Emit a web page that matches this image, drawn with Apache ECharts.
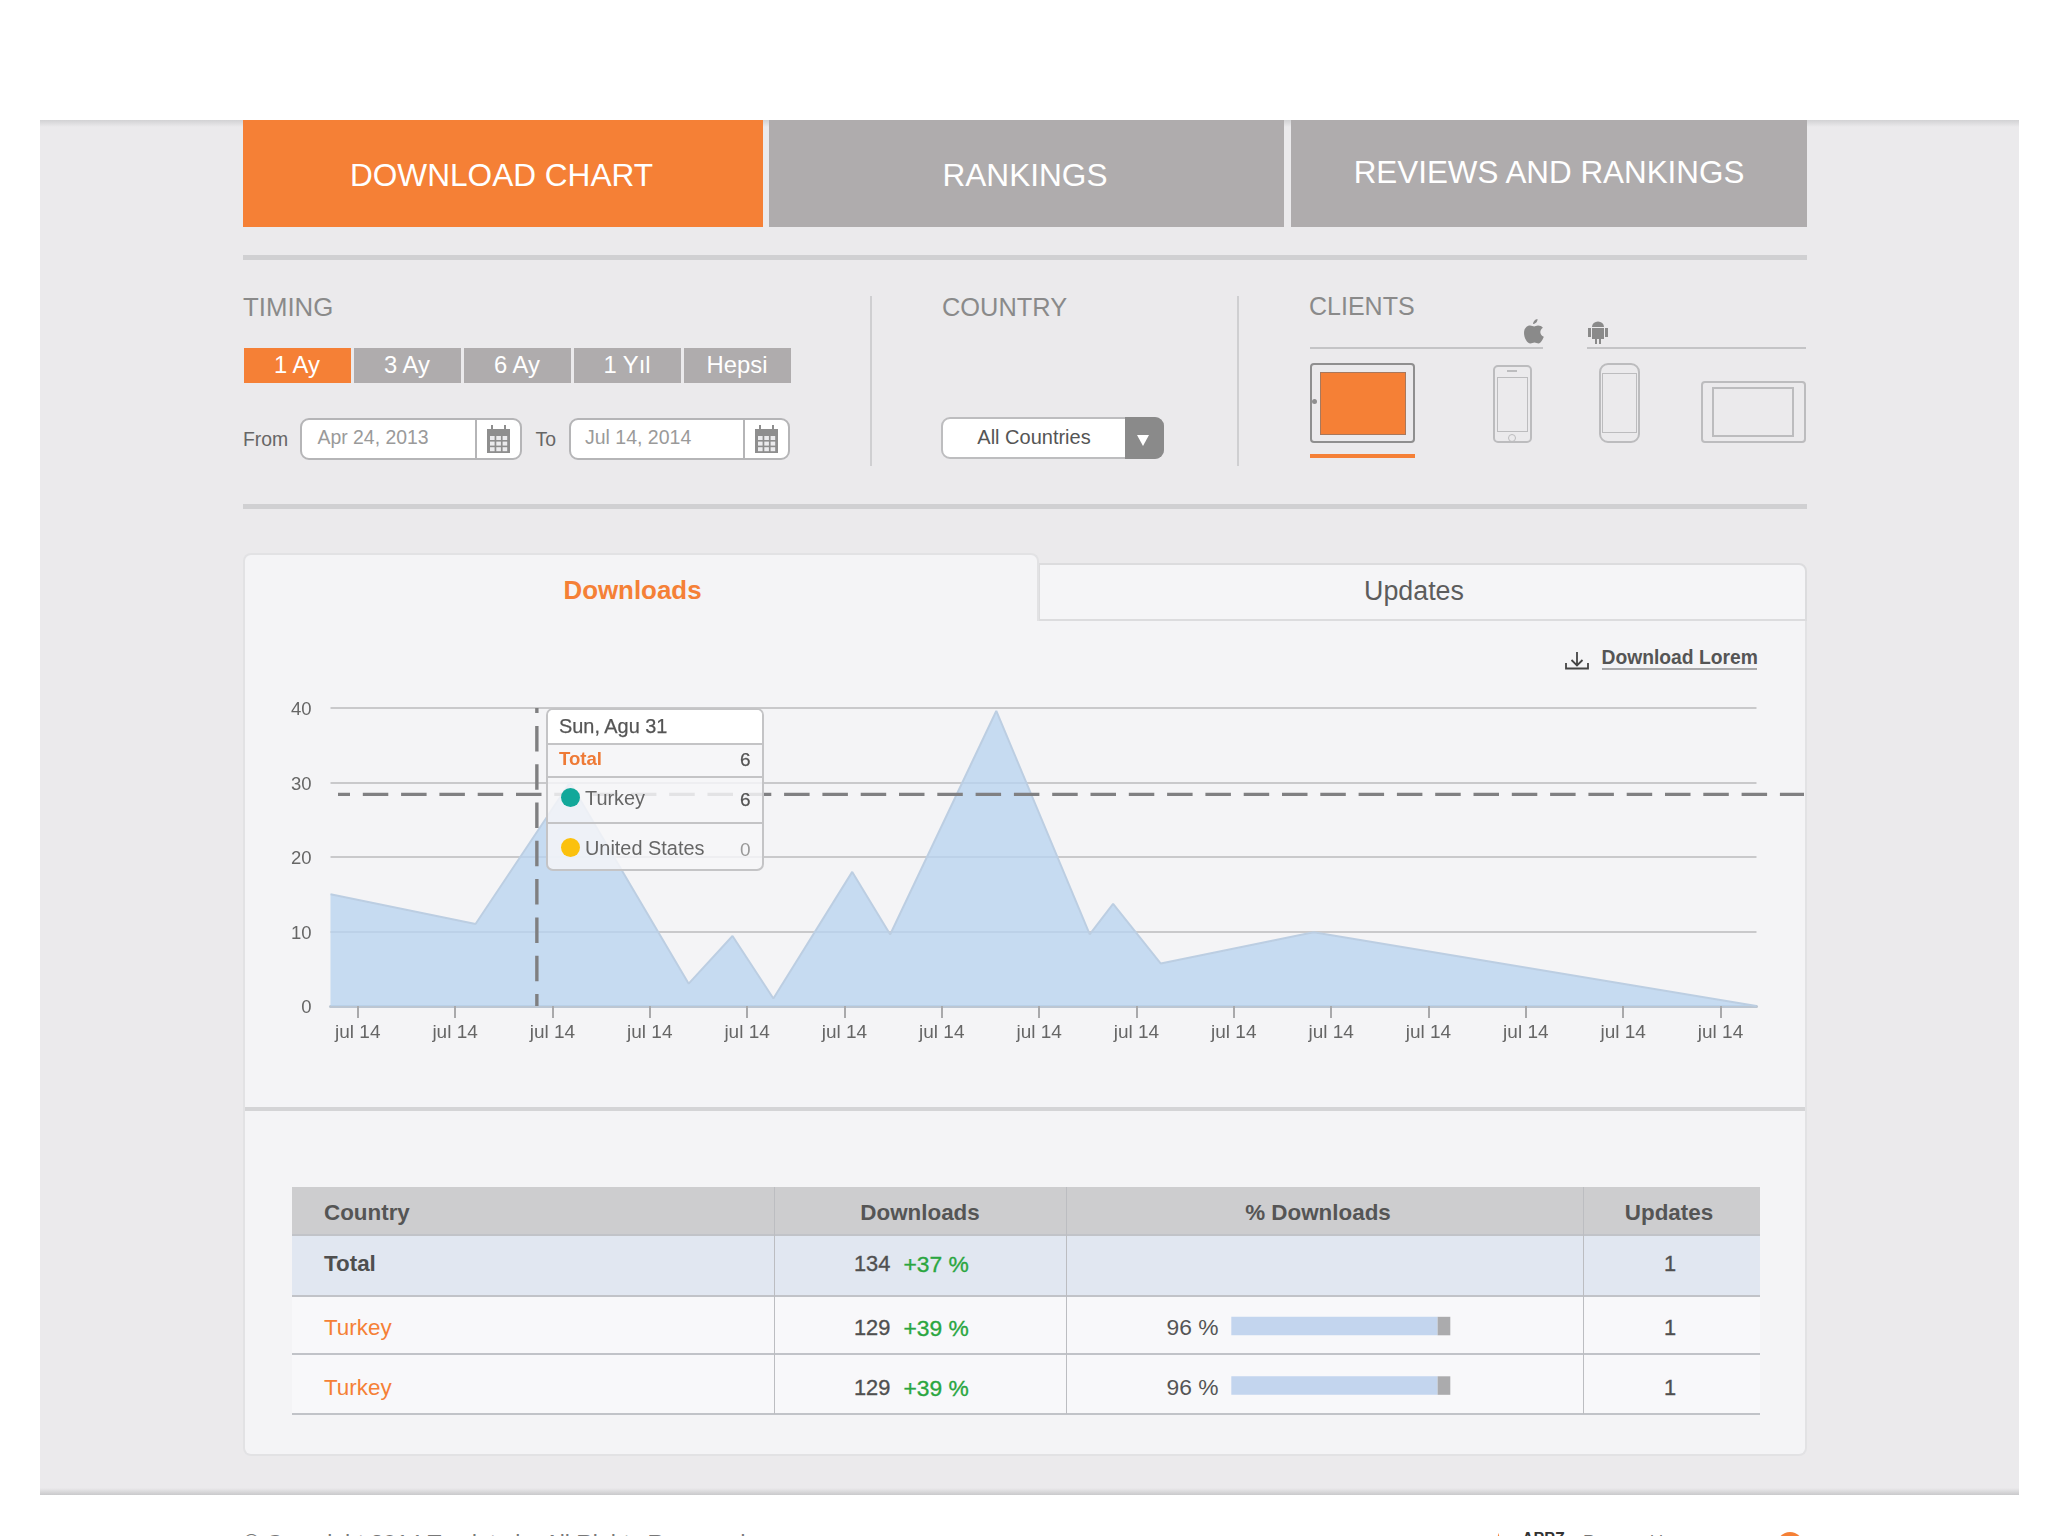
<!DOCTYPE html>
<html><head><meta charset="utf-8">
<script src="https://cdn.jsdelivr.net/npm/echarts@6/dist/echarts.min.js"></script>
<style>
html,body{margin:0;padding:0;background:#fff;width:2048px;height:1536px;overflow:hidden;font-family:"Liberation Sans",Arial,sans-serif}
#page{position:absolute;left:0;top:0;width:2048px;height:1536px;overflow:hidden}
.b{position:absolute;box-sizing:border-box}
.t{position:absolute;white-space:nowrap;line-height:1;transform:translateY(-50%)}
.c{transform:translate(-50%,-50%)}
.r{transform:translate(-100%,-50%)}
#chart{position:absolute;left:0;top:0;width:2048px;height:1536px;z-index:5}
#tip{position:absolute;z-index:8;left:546px;top:708px;width:218px;height:163px;box-sizing:border-box;border:2px solid #c4c4c6;border-radius:7px;background:rgba(246,246,248,.84);overflow:hidden}
svg{position:absolute;overflow:visible}
</style></head><body>
<div id="page"><div id="chart"></div></div>
<script>
// ---- data ----
const tickPositions=[0,1,2,3,4,5,6,7,8,9,10,11,12,13,14];
const tickLabel='jul 14';
const seriesX=[-0.28,1.21,2.18,3.40,3.85,4.27,5.08,5.47,6.56,7.52,7.76,8.25,9.82,14.37];
const seriesY=[15,11,30,3,9.4,1,18,9.6,39.6,9.6,13.7,5.7,9.9,0];
const yTicks=[0,10,20,30,40];
const referenceValue=28.4;
const cursorX=1.84;
const tabs=['DOWNLOAD CHART','RANKINGS','REVIEWS AND RANKINGS'];
const timingButtons=['1 Ay','3 Ay','6 Ay','1 Yıl','Hepsi'];
const tableHeaders=['Country','Downloads','% Downloads','Updates'];
const rowNames=['Total','Turkey','Turkey'];
const rowDownloads=[134,129,129];
const rowGrowth=['+37 %','+39 %','+39 %'];
const rowUpdates=[1,1,1];
const sharePercent=[96,96];
const shareFilled=[94.2,94.2];
const shareRest=[5.8,5.8];
const tooltipRows=[['Turkey',6,'#12a89a'],['United States',0,'#fbc10e']];

// ---- page chrome ----
const page=document.getElementById('page');
function box(x,y,w,h,css){const d=document.createElement('div');d.className='b';d.style.cssText=`left:${x}px;top:${y}px;width:${w}px;height:${h}px;${css||''}`;page.appendChild(d);return d;}
function txt(s,x,y,size,color,css,cls,parent){const d=document.createElement('div');d.className='t '+(cls||'');d.textContent=s;d.style.cssText=`left:${x}px;top:${y}px;font-size:${size}px;color:${color};${css||''}`;(parent||page).appendChild(d);return d;}
function svg(x,y,w,h,inner){const ns=document.createElement('div');ns.innerHTML=`<svg style="left:${x}px;top:${y}px" width="${w}" height="${h}" viewBox="0 0 ${w} ${h}">${inner}</svg>`;page.appendChild(ns.firstChild);}
const ORANGE='#f58036',GRAY='#afacad';

box(40,120,1979,1375,'background:#ebeaec');
box(40,120,1979,7,'background:linear-gradient(#d2d2d4,#ebeaec)');
box(40,1488,1979,7,'background:linear-gradient(#ebeaec,#c9c9cb)');

box(243,120,519.5,107,'background:'+ORANGE);
box(768.5,120,515,107,'background:'+GRAY);
box(1290.5,120,516.5,107,'background:'+GRAY);
txt(tabs[0],501.5,176,31.6,'#fff','','c');
txt(tabs[1],1025,176,31.6,'#fff','','c');
txt(tabs[2],1549,172.5,31.4,'#fff','','c');
box(243,255,1563.5,5,'background:#d0d0d2');
box(243,504,1563.5,5,'background:#d0d0d2');

txt('TIMING',243,308,25.8,'#8a8a8a');
txt('COUNTRY',942,308,25.4,'#8a8a8a');
txt('CLIENTS',1309,306,25,'#8a8a8a');
box(870,296,2,170,'background:#cfcfd1');
box(1236.5,296,2,170,'background:#cfcfd1');

const btnX=[243.5,353.5,463.5,573.5,683.5];
timingButtons.forEach((s,i)=>{box(btnX[i],348,107,34.5,'background:'+(i==0?ORANGE:GRAY));txt(s,btnX[i]+53.5,365,23.8,'#fff','','c');});

const calendar='<rect x="1" y="4" width="23" height="24" fill="#8e8e8e"/><rect x="5" y="0" width="2" height="7" fill="#8e8e8e"/><rect x="18" y="0" width="2" height="7" fill="#8e8e8e"/>'+[0,1,2].map(r=>[0,1,2].map(c=>`<rect x="${4+c*6.3}" y="${11+r*5.6}" width="4.6" height="4" fill="#ebebed"/>`).join('')).join('');
txt('From',243,440,19.4,'#666');
box(300,418,222,42,'background:#fff;border:2px solid #b5b5b7;border-radius:9px');
box(475,419,2,40,'background:#b5b5b7');
txt('Apr 24, 2013',317.5,438,19.4,'#9a9a9a');
svg(486,425,25,28,calendar);
txt('To',535.5,440,19.4,'#666');
box(568.5,418,221.5,42,'background:#fff;border:2px solid #b5b5b7;border-radius:9px');
box(743,419,2,40,'background:#b5b5b7');
txt('Jul 14, 2014',585,438,19.5,'#9a9a9a');
svg(754,425,25,28,calendar);

box(941,417,223,42,'background:#fff;border:2px solid #bdbdbf;border-radius:9px;overflow:hidden');
box(1125,417,39,42,'background:#8a8a8a;border-radius:0 9px 9px 0');
txt('All Countries',1034,437,20,'#555','','c');
svg(1137,435,13,12,'<path d="M0 0H12L6 11Z" fill="#fff"/>');

box(1309.5,347,233,2,'background:#c4c4c6');
box(1587,347,218.5,2,'background:#c4c4c6');
svg(1524,319,20,26,'<path d="M13.5 0c.3 2.5-2 5-4.4 5C9 2.700 11.200.3 13.500 0zM14 6.500c2 0 3.800.8 4.900 2.300-3.800 2.300-3.200 7.400.9 9-.9 2.500-3 6.700-5.300 6.700-1.500 0-2.500-1-4-1s-2.600 1-4.100 1C3.200 24.500 0 18.800 0 14c0-5 3.200-7.500 6-7.500 1.700 0 3 1 4.200 1 1 0 2.200-1 3.800-1z" fill="#8a8a8a"/>');
svg(1588,320,20,25,'<path d="M4 7a6 5.500 0 0 1 12 0zM4 8h12v11h-3v5h-2v-5h-2v5H7v-5H4zM0 8h3v9H0zM17 8h3v9h-3z" fill="#8a8a8a"/>');
box(1309.5,363,105.5,80,'border:2px solid #8f8f8f;border-radius:4px');
box(1320,372,86,63,'background:'+ORANGE+';border:1px solid #a8785c');
box(1311.5,399,5,5,'background:#8f8f8f;border-radius:50%');
box(1309.5,454,105.5,4,'background:'+ORANGE);
const lineCss='border:2px solid #bcbcbe;';
box(1493,365,38.5,78,lineCss+'border-radius:5px');box(1497,377,31,55,'border:1.500px solid #bcbcbe');
box(1507.5,434,8,8,'border:1.500px solid #bcbcbe;border-radius:50%');box(1507,370,10,2,'background:#bcbcbe');
box(1599,363,40.500,80,lineCss+'border-radius:9px');box(1602,373,34.500,60,'border:1.500px solid #bcbcbe');
box(1701,381,104.500,62,lineCss+'border-radius:4px');box(1712,387,82,50,'border:2px solid #bcbcbe');

// card and tabs
box(243,620,1564,836,'background:#f4f4f6;border:2px solid #e2e2e4;border-top:none;border-radius:0 0 8px 8px');
box(1038,563,769,58,'background:#f5f5f7;border:2px solid #dcdcde;border-radius:0 8px 0 0');
box(243,553,796,68,'background:#f4f4f6;border:2px solid #e2e2e4;border-bottom:none;border-radius:8px 8px 0 0');
txt('Downloads',632.5,591,25.9,ORANGE,'font-weight:bold','c');
txt('Updates',1414,591,26.8,'#5c5c5c','','c');
txt('Download Lorem',1601.5,658,19.3,'#555','font-weight:bold');
box(1601.5,668,155.5,2,'background:#a9a9ab');
svg(1565,651,24,19,'<path d="M12 1V14M6.500 9L12 14.500L17.500 9M1 12V17.500H23V12" fill="none" stroke="#444" stroke-width="1.800"/>');
box(245,1107,1560,4,'background:#d4d4d6');

// table
const colSeps=[774,1066,1583];
const rowY=[1187,1235,1296,1354,1414];
box(292,rowY[0],1467.500,48,'background:#cdcdcf');
box(292,rowY[1],1467.500,61,'background:#e1e7f1');
box(292,rowY[2],1467.500,118,'background:#f8f8fa');
rowY.slice(1).forEach(y=>box(292,y-1,1467.500,2,'background:#c1c3c8'));
colSeps.forEach(x=>box(x-0.5,rowY[0],1,rowY[4]-rowY[0],'background:#bcbdc1'));
const hc=[324,920,1318,1669];
tableHeaders.forEach((h,i)=>txt(h,hc[i],1212.500,22.400,'#555','font-weight:bold',i?'c':''));
const rowC=[1264,1328,1388];
const numCss='-webkit-text-stroke:.35px currentColor';
rowNames.forEach((n,i)=>{
  txt(n,324,rowC[i],22.400,i?ORANGE:'#4f4f4f',i?'':'font-weight:bold');
  txt(String(rowDownloads[i]),854,rowC[i],21.800,'#505050',numCss);
  txt(rowGrowth[i],903.500,rowC[i]-0.5,22.800,'#2aa640',numCss);
  txt(String(rowUpdates[i]),1670,rowC[i],21.800,'#505050',numCss,'c');
});
sharePercent.forEach((v,i)=>txt(v+' %',1218.500,rowC[i+1]-1,22.800,'#555','','r'));

// footer (cropped by the window edge)
txt('© Copyright 2014 Teqdata.la. All Rights Reserved.',243,1542,22.9,'#777');
txt('APPZ',1522,1539,16,'#333','font-weight:bold');
txt('Powered by',1583,1541.5,18,'#777');
box(1494,1533,9,20,'background:'+ORANGE+';clip-path:polygon(50% 0,100% 100%,0 100%)');
box(1777,1532,26,26,'background:'+ORANGE+';border-radius:50%');

// tooltip
const tip=document.createElement('div');tip.id='tip';page.appendChild(tip);
function tipBox(x,y,w,h,css){const d=document.createElement('div');d.className='b';d.style.cssText=`left:${x}px;top:${y}px;width:${w}px;height:${h}px;${css||''}`;tip.appendChild(d);}
tipBox(0,0,214,35,'background:#fff;border-bottom:2px solid #c4c4c6');
tipBox(0,66,214,2,'background:#c4c4c6');
tipBox(0,112,214,2,'background:#c4c4c6');
txt('Sun, Agu 31',11,16.5,19.900,'#555','-webkit-text-stroke:.25px #555','',tip);
txt('Total',11,49,18.600,'#ee7a36','font-weight:bold','',tip);
txt('6',202.5,49,19,'#555','-webkit-text-stroke:.25px #555','r',tip);
const tipDotY=[87,137.5];
const tipTextY=[88.5,138.5];
tooltipRows.forEach((r,i)=>{
  tipBox(13,tipDotY[i]-9.500,19,19,`background:${r[2]};border-radius:50%`);
  txt(r[0],37,tipTextY[i],19.900,'#666','','',tip);
  txt(String(r[1]),202.500,tipTextY[i],19,r[1]?'#555':'#999',r[1]?'-webkit-text-stroke:.25px #555':'','r',tip);
});

// ---- chart ----
const chart=echarts.init(document.getElementById('chart'),null,{renderer:'canvas',width:2048,height:1536});
const FONT='Liberation Sans';
const dash=[25.5,12.8];
chart.setOption({
  backgroundColor:'transparent',animation:false,
  grid:[
    {left:330.5,top:708,width:1426,height:298},
    {left:338,top:708,width:1466,height:298},
    {left:1231.3,top:1296.3,width:219,height:119}
  ],
  xAxis:[
    {gridIndex:0,type:'value',min:seriesX[0],max:seriesX[seriesX.length-1],splitLine:{show:false},
     axisLine:{show:true,lineStyle:{color:'#bcc6d2',width:3}},
     axisTick:{show:true,length:12,customValues:tickPositions,lineStyle:{color:'#a9a9ab',width:2}},
     axisLabel:{customValues:tickPositions,formatter:()=>tickLabel,margin:17,fontSize:19,fontFamily:FONT,color:'#666'}},
    {gridIndex:1,type:'value',min:0,max:1,show:false},
    {gridIndex:2,type:'value',min:0,max:100,show:false}
  ],
  yAxis:[
    {gridIndex:0,type:'value',min:yTicks[0],max:yTicks[yTicks.length-1],interval:10,
     axisLine:{show:false},axisTick:{show:false},
     splitLine:{lineStyle:{color:'#c9c9cb',width:2}},
     axisLabel:{margin:19,fontSize:18.500,fontFamily:FONT,color:'#666',verticalAlign:'top',lineHeight:4}},
    {gridIndex:1,type:'value',min:yTicks[0],max:yTicks[yTicks.length-1],show:false},
    {gridIndex:2,type:'category',data:['Turkey 1','Turkey 2'],inverse:true,show:false}
  ],
  series:[
    {type:'line',xAxisIndex:0,yAxisIndex:0,data:seriesX.map((x,i)=>[x,seriesY[i]]),symbol:'none',smooth:false,
     lineStyle:{color:'#bccee2',width:2},areaStyle:{color:'#b8d3f0',opacity:.78},z:2},
    {type:'line',xAxisIndex:0,yAxisIndex:0,data:[[cursorX,yTicks[0]],[cursorX,yTicks[4]]],symbol:'none',
     lineStyle:{color:'#7f7f81',width:3.4,type:dash,dashOffset:13.5},z:3},
    {type:'line',xAxisIndex:1,yAxisIndex:1,data:[[0,referenceValue],[1,referenceValue]],symbol:'none',
     lineStyle:{color:'#808082',width:3.4,type:dash,dashOffset:13.5},z:3},
    {type:'bar',xAxisIndex:2,yAxisIndex:2,stack:'share',data:shareFilled,barWidth:18.5,itemStyle:{color:'#c3d5ee'}},
    {type:'bar',xAxisIndex:2,yAxisIndex:2,stack:'share',data:shareRest,barWidth:18.5,itemStyle:{color:'#ababad'}}
  ]
});
</script></body></html>
